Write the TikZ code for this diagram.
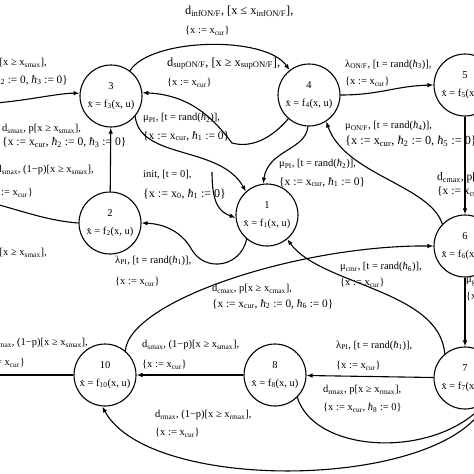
\documentclass[tikz,border=0pt]{standalone}
\usepackage{fontspec}
\setmainfont{Liberation Serif}
\usetikzlibrary{arrows.meta}
\newcommand{\hb}[1]{\textit{ħ}\textsubscript{#1}}
\newcommand{\xcur}{x := x\textsubscript{cur}}
\newcommand{\fs}[1]{\fontsize{#1}{#1}\selectfont}
\newcommand{\xdt}{\leavevmode\hbox{\ooalign{x\cr\hidewidth\raisebox{4.4pt}{.}\hidewidth\cr}}}
\newcommand{\stlab}[2]{\raisebox{7pt}{\begin{tabular}{@{}c@{}}#1\\[5pt]\xdt{} = f\textsubscript{#2}(x, u)\end{tabular}}}
\begin{document}
\begin{tikzpicture}[x=1pt, y=-1pt, font=\fontsize{10.5}{12.6}\selectfont,
  stnode/.style={circle, draw, line width=1.1pt, minimum size=62pt, inner sep=0pt},
  arr/.style={-{Latex[length=6pt,width=4.5pt]}, line width=1.1pt},
  lab/.style={align=left, inner sep=0pt, anchor=west},
  labr/.style={inner sep=0pt, anchor=east}]
  \useasboundingbox (0,0) rectangle (474,474);
  \clip (0,0) rectangle (474,474);
  % states
  \node[stnode] (n3) at (111,96) {\stlab{3}{3}};
  \node[stnode] (n4) at (309,95) {\stlab{4}{4}};
  \node[stnode] (n5) at (465,85) {\stlab{5}{5}};
  \node[stnode] (n1) at (267,215) {\stlab{1}{1}};
  \node[stnode] (n2) at (110,223) {\stlab{2}{2}};
  \node[stnode] (n6) at (465,246) {\stlab{6}{6}};
  \node[stnode] (n7) at (465,378) {\stlab{7}{7}};
  \node[stnode] (n8) at (275,375) {\stlab{8}{8}};
  \node[stnode] (n10) at (105,375) {\stlab{10}{10}};
  \coordinate (inL) at (-4,103);
  \coordinate (outL2) at (-8,203);
  \coordinate (outL10) at (-8,375);
  \coordinate (init) at (212,172);
  % transitions
  \draw[arr] (inL) .. controls (30,100) and (60,93) .. (n3.175);
  \draw[arr] (n2.west) .. controls (50,221) and (25,212) .. (outL2);
  \draw[arr] (n2) -- (n3);
  \draw[arr] (n3.53) .. controls (150,38) and (265,35) .. (n4.128);
  \draw[arr] (n4.229) .. controls (270,140) and (250,148) .. (232,143) .. controls (218,125) and (195,95) .. (n3.6);
  \draw[arr] (n3.-40) .. controls (140,160) and (220,145) .. (n1.132);
  \draw[arr] (n4.-92) .. controls (306,150) and (268,150) .. (n1.97);
  \draw[arr] (n6.136) .. controls (430,185) and (345,175) .. (n4.-57);
  \draw[arr] (n4.east) .. controls (380,95) and (395,86) .. (n5.west);
  \draw[arr] (n5) -- (n6);
  \draw[arr] (n6) -- (n7);
  \draw[arr] (n7) -- (n8);
  \draw[arr] (n8.-45) .. controls (315,455) and (440,460) .. (n7.-35);
  \draw[arr] (n7.-45) .. controls (450,490) and (150,495) .. (n10.-95);
  \draw[arr] (n8) -- (n10);
  \draw[arr] (n10.west) -- (outL10);
  \draw[arr] (n10.50) .. controls (130,300) and (300,245) .. (n6.west);
  \draw[arr] (n7.130) .. controls (440,290) and (320,285) .. (n1.-50);
  \draw[arr] (n1.-130) .. controls (240,268) and (205,272) .. (192,250) .. controls (182,232) and (165,224) .. (n2.east);
  \draw[arr] (init) .. controls (212,205) and (220,212) .. (n1.185);
  % guards and resets
  \node[labr] (tA1) at (47,63) {d\textsubscript{smax}, p[x ≥ x\textsubscript{smax}],};
  \node[labr] (tA2) at (68,80) {\fs{11.3}\{\xcur, \hb{2} := 0, \hb{3} := 0\}};
  \node[lab] (tB) at (185,20.5) {{\fs{12.3}d\textsubscript{infON/F}, [x ≤ x\textsubscript{infON/F}],}\\[7pt] \{\xcur\}};
  \node[lab] (tC) at (167,72.5) {{\fs{12.3}d\textsubscript{supON/F}, [x ≥ x\textsubscript{supON/F}],}\\[7pt] \{\xcur\}};
  \node[lab] (tD) at (143,127) {μ\textsubscript{PI}, [t = rand(\hb{2})],\\[6pt] {\fs{11.5}\{\xcur, \hb{1} := 0\}}};
  \node[lab] (tE) at (143,184.5) {init, [t = 0],\\[7pt] {\fs{12}\{x := x\textsubscript{0}, \hb{1} := 0\}}};
  \node[lab] (tF) at (279,173) {μ\textsubscript{PI}, [t = rand(\hb{2})],\\[6pt] {\fs{11.5}\{\xcur, \hb{1} := 0\}}};
  \node[lab] (tG) at (345,73) {λ\textsubscript{ON/F}, [t = rand(\hb{3})],\\[5pt] \{\xcur\}};
  \node[lab] (tH) at (345,134) {μ\textsubscript{ON/F}, [t = rand(\hb{4})],\\[4pt] {\fs{12.3}\{\xcur, \hb{2} := 0, \hb{5} := 0\}}};
  \node[lab] (tI) at (437,184.5) {{\fs{11.5}d\textsubscript{cmax}, p[x ≥ x\textsubscript{cmax}],}\\[1pt] {\fs{11.5}\{\xcur\}}};
  \node[lab] (tJ) at (2,136) {d\textsubscript{smax}, p[x ≥ x\textsubscript{smax}],\\[1pt] {\fs{11.6}\{\xcur, \hb{2} := 0, \hb{3} := 0\}}};
  \node[labr] (tK1) at (94,170) {d\textsubscript{smax}, (1−p)[x ≥ x\textsubscript{smax}],};
  \node[labr] (tK2) at (33,193) {\{\xcur\}};
  \node[lab] (tL) at (115,271) {λ\textsubscript{PI}, [t = rand(\hb{1})],\\[9pt] \{\xcur\}};
  \node[labr] (tM) at (47,253) {d\textsubscript{smax}, p[x ≥ x\textsubscript{smax}],};
  \node[lab] (tN) at (340,275) {μ\textsubscript{cmr}, [t = rand(\hb{6})],\\[3pt] \{\xcur\}};
  \node[lab] (tO) at (212,296.5) {d\textsubscript{cmax}, p[x ≥ x\textsubscript{cmax}],\\[3pt] {\fs{11.3}\{\xcur, \hb{2} := 0, \hb{6} := 0\}}};
  \node[lab] (tP) at (466,288.5) {μ\textsubscript{gr}, [t = rand(\hb{7})],\\[4pt] \{\xcur\}};
  \node[labr] (tQ1) at (88,343) {d\textsubscript{smax}, (1−p)[x ≥ x\textsubscript{smax}],};
  \node[labr] (tQ2) at (25,363) {\{\xcur\}};
  \node[lab] (tR) at (142,355) {d\textsubscript{smax}, (1−p)[x ≥ x\textsubscript{smax}],\\[7pt] \{\xcur\}};
  \node[lab] (tS) at (336,355.5) {λ\textsubscript{PI}, [t = rand(\hb{1})],\\[8pt] \{\xcur\}};
  \node[lab] (tT) at (323,399) {d\textsubscript{rmax}, p[x ≥ x\textsubscript{rmax}],\\[5pt] \{\xcur, \hb{8} := 0\}};
  \node[lab] (tU) at (155,424) {d\textsubscript{rmax}, (1−p)[x ≥ x\textsubscript{rmax}],\\[5pt] \{\xcur\}};
\end{tikzpicture}
\end{document}
